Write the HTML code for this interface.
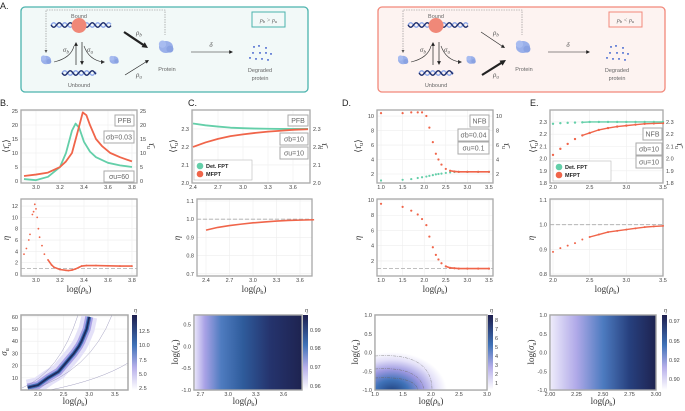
<!DOCTYPE html>
<html><head><meta charset="utf-8">
<style>
html,body{margin:0;padding:0;background:#fff;overflow:hidden;width:685px;height:411px;}
svg{display:block;font-family:"Liberation Sans",sans-serif;}
.tk{font-size:5.5px;fill:#444;}
.ser{font-family:"Liberation Serif",serif;}
</style></head>
<body>
<svg id="fig" width="685" height="411" viewBox="0 0 685 411" xmlns="http://www.w3.org/2000/svg" overflow="hidden">
<defs>
<linearGradient id="gC" x1="0" x2="1" y1="0" y2="0">
<stop offset="0" stop-color="#ece8fb"/><stop offset="0.1" stop-color="#a9a2e6"/><stop offset="0.25" stop-color="#4f7cc0"/><stop offset="0.45" stop-color="#2f5c9c"/><stop offset="0.7" stop-color="#25346e"/><stop offset="1" stop-color="#1e2350"/>
</linearGradient>
<linearGradient id="gE" x1="0" x2="1" y1="0" y2="0">
<stop offset="0" stop-color="#efedfb"/><stop offset="0.25" stop-color="#b0a9e8"/><stop offset="0.5" stop-color="#4d7bc0"/><stop offset="0.75" stop-color="#27407e"/><stop offset="1" stop-color="#1e2350"/>
</linearGradient>
<linearGradient id="gBar" x1="0" x2="0" y1="1" y2="0">
<stop offset="0" stop-color="#ffffff"/><stop offset="0.3" stop-color="#b7b0ea"/><stop offset="0.6" stop-color="#3f72b8"/><stop offset="1" stop-color="#1e1f4e"/>
</linearGradient>
<radialGradient id="gD" gradientUnits="userSpaceOnUse" cx="0" cy="0" r="1" gradientTransform="translate(392,392) scale(55,40)">
<stop offset="0" stop-color="#1f3f7c"/><stop offset="0.3" stop-color="#3f72b8"/><stop offset="0.55" stop-color="#9c98e0"/><stop offset="0.8" stop-color="#e2dff8"/><stop offset="1" stop-color="#ffffff"/>
</radialGradient>
</defs>
<g id="root"></g>
</svg>
<script>
// ---------- data ----------
const bTopX=[2.9,3.0,3.1,3.2,3.25,3.3,3.33,3.36,3.4,3.45,3.5,3.6,3.7,3.8];
const bDet=[0.7,0.3,1.5,5,10,18,20.5,19,14,10.5,8.5,6.5,5.6,5];
const bMfX=[2.9,3.0,3.1,3.2,3.25,3.3,3.35,3.39,3.42,3.45,3.5,3.55,3.62,3.7,3.8];
const bMf=[1.8,2.3,3,5,7,10,18,24.5,23.5,20,15,12.5,10,8.5,7];
const bEtaX=[2.9,2.92,2.94,2.95,2.97,2.98,2.99,3.0,3.01,3.02,3.03,3.05,3.07,3.1,3.13,3.15,3.2,3.25,3.27,3.3,3.33,3.36,3.38,3.42,3.5,3.6,3.7,3.8];
const bEta=[3.5,4.5,6,7,10.5,11,12.3,11.5,10,8,6.5,5,3.5,2.5,1.6,1.2,0.8,0.65,0.6,0.7,0.9,1.2,1.4,1.5,1.5,1.45,1.4,1.4];
const cX=[2.4,2.55,2.7,2.85,3.0,3.15,3.3,3.45,3.6,3.78];
const cDet=[2.33,2.32,2.313,2.307,2.304,2.302,2.301,2.3,2.3,2.3];
const cMf=[2.2,2.225,2.245,2.26,2.27,2.278,2.285,2.29,2.295,2.298];
const cEta=[0.94,0.955,0.965,0.973,0.98,0.985,0.99,0.993,0.995,0.997];
const dX=[1.0,1.5,1.7,1.85,1.95,2.05,2.12,2.2,2.27,2.33,2.4,2.5,2.6,2.7,2.8,3.0,3.25,3.5];
const dMf=[10.4,10.4,10.5,10.5,10.5,10,8.4,6.4,4.8,4,3.3,2.7,2.45,2.35,2.3,2.3,2.3,2.3];
const dDet=[1.1,1.2,1.3,1.45,1.55,1.65,1.75,1.85,1.95,2.0,2.05,2.15,2.22,2.27,2.3,2.3,2.3,2.3];
const dEta=[9.5,9.1,8.6,8.1,7.5,6.7,5.2,3.8,2.8,2.2,1.7,1.3,1.1,1.05,1.0,1.0,1.0,1.0];
const eX=[2.0,2.1,2.2,2.3,2.4,2.5,2.625,2.75,2.875,3.0,3.125,3.25,3.375,3.5];
const eDet=[2.285,2.29,2.293,2.295,2.297,2.3,2.3,2.3,2.3,2.3,2.3,2.3,2.3,2.3];
const eMf=[2.03,2.08,2.12,2.16,2.19,2.21,2.235,2.25,2.262,2.27,2.278,2.285,2.288,2.29];
const eEta=[0.89,0.905,0.915,0.925,0.94,0.95,0.96,0.97,0.975,0.98,0.985,0.99,0.993,0.995];
const bBandX=[1.8,2.0,2.2,2.4,2.5,2.6,2.7,2.8,2.85,2.9,2.95,3.0];
const bBandY=[2,4,10,15,20,25,30,36,40,45,50,60];
const tB=['3.0','3.2','3.4','3.6','3.8'];
const tC=['2.4','2.7','3.0','3.3','3.6'];
const tD=['1.0','1.5','2.0','2.5','3.0','3.5'];
const tE=['2.0','2.5','3.0','3.5'];

const NS='http://www.w3.org/2000/svg';
const root=document.getElementById('root');
function mk(tag,attrs,parent,txt){const e=document.createElementNS(NS,tag);for(const k in attrs)e.setAttribute(k,attrs[k]);if(txt!==undefined)e.textContent=txt;(parent||root).appendChild(e);return e;}
const RED='#f0654a',GRN='#64cfa9';

function axes(name,f,xd,yd,xt,yt,yr){
  const [x0,y0,x1,y1]=f;
  const g=mk('g',{});
  
  
  const sx=v=>x0+(v-xd[0])/(xd[1]-xd[0])*(x1-x0);
  const sy=v=>y1-(v-yd[0])/(yd[1]-yd[0])*(y1-y0);
  mk('rect',{x:x0,y:y0,width:x1-x0,height:y1-y0,fill:'#fff'},g);
  xt.forEach(t=>{const v=parseFloat(t);mk('line',{x1:sx(v),x2:sx(v),y1:y0,y2:y1,stroke:'#eee','stroke-width':0.6},g);const l=mk('text',{x:sx(v),y:y1+6,'text-anchor':'middle',class:'tk'},g,t);});
  yt.forEach(t=>{const v=parseFloat(t);mk('line',{x1:x0,x2:x1,y1:sy(v),y2:sy(v),stroke:'#eee','stroke-width':0.6},g);const l=mk('text',{x:x0-3,y:sy(v)+2,'text-anchor':'end',class:'tk'},g,t);
    if(yr){const r=mk('text',{x:x1+3,y:sy(v)+2,class:'tk'},g,t);}});
  mk('rect',{x:x0,y:y0,width:x1-x0,height:y1-y0,fill:'none',stroke:'#a8a8a8','stroke-width':1.3},g);
  return {g,sx,sy};
}
function line(ax,xs,ys,col,w,name){
  const p=mk('polyline',{points:xs.map((x,i)=>ax.sx(x)+','+ax.sy(ys[i])).join(' '),fill:'none',stroke:col,'stroke-width':w,'stroke-linejoin':'round'},ax.g);
  
  
}
function dots(ax,xs,ys,col,r,name){
  xs.forEach((x,i)=>{const c=mk('circle',{cx:ax.sx(x),cy:ax.sy(ys[i]),r:r,fill:col},ax.g);
    
    });
}
function hdash(ax,v,x0,x1){mk('line',{x1:x0,x2:x1,y1:ax.sy(v),y2:ax.sy(v),stroke:'#aaa','stroke-width':0.8,'stroke-dasharray':'4,2'},ax.g);}
function tbox(x,y,w,h,t,name,fs){
  const g=mk('g',{});
  
  
  mk('rect',{x:x,y:y,width:w,height:h,fill:'#fff',stroke:'#aaa','stroke-width':1},g);
  mk('text',{x:x+w/2,y:y+h/2+2.5,'text-anchor':'middle','font-size':fs||7,fill:'#666'},g,t);
}
function legend(x,y){
  const g=mk('g',{});
  
  
  mk('rect',{x:x,y:y,width:58,height:20,fill:'#fff',stroke:'#bbb','stroke-width':0.6},g);
  mk('circle',{cx:x+6,cy:y+6,r:3.3,fill:GRN},g);
  mk('circle',{cx:x+6,cy:y+14,r:3.3,fill:RED},g);
  mk('text',{x:x+12,y:y+8,'font-size':5.5,'font-weight':'bold',fill:'#222'},g,'Det. FPT');
  mk('text',{x:x+12,y:y+16,'font-size':5.5,'font-weight':'bold',fill:'#222'},g,'MFPT');
}
function ylab(x,y,html,name,rot){
  const t=mk('text',{x:0,y:0,'font-size':9,class:'ser',fill:'#333','text-anchor':'middle',transform:`translate(${x},${y}) rotate(${rot||-90})`});
  t.innerHTML=html;
  
  
}
function xlab(x,y){
  const t=mk('text',{x:x,y:y,'font-size':9,class:'ser',fill:'#333','text-anchor':'middle'});
  t.innerHTML='log(<tspan font-style="italic">ρ</tspan><tspan font-size="6" dy="2">b</tspan><tspan dy="-2">)</tspan>';
  
  
}
const TAU='⟨<tspan font-style="italic">τ̄</tspan><tspan font-size="6" dy="2">u</tspan><tspan dy="-2">⟩</tspan>';
const TAUR='<tspan font-style="italic">τ̄</tspan><tspan font-size="6" dy="2">u</tspan>';
const ETA='<tspan font-style="italic">η</tspan>';
function plabel(x,y,t){const e=mk('text',{x:x,y:y,'font-size':9,fill:'#222'},root,t);}

// ---------- panel A ----------
function dna(x,y,w,g){
  let p1='',p2='';
  for(let i=0;i<=w;i+=1){const a=i/w*Math.PI*2*(w/11);p1+=(i?'L':'M')+(x+i)+','+(y+2.3*Math.sin(a));p2+=(i?'L':'M')+(x+i)+','+(y-2.3*Math.sin(a));}
  mk('path',{d:p2,fill:'none',stroke:'#8fa8e8','stroke-width':1.4},g);
  mk('path',{d:p1,fill:'none',stroke:'#1f2f6e','stroke-width':1.4},g);
}
function blob(x,y,s,g){
  mk('ellipse',{cx:x,cy:y,rx:5*s,ry:4.3*s,fill:'#9ab0ea'},g);
  mk('circle',{cx:x-2.5*s,cy:y-2*s,r:2.6*s,fill:'#a8bcf0'},g);
  mk('circle',{cx:x+2.8*s,cy:y+1.5*s,r:2.5*s,fill:'#8aa2e2'},g);
}
function arrow(x1,y1,x2,y2,w,g){
  const a=Math.atan2(y2-y1,x2-x1),h=3+w*1.3;
  mk('line',{x1:x1,y1:y1,x2:x2-Math.cos(a)*h*0.8,y2:y2-Math.sin(a)*h*0.8,stroke:'#222','stroke-width':w},g);
  const p=[[x2,y2],[x2-Math.cos(a)*h+Math.sin(a)*h*0.5,y2-Math.sin(a)*h-Math.cos(a)*h*0.5],[x2-Math.cos(a)*h-Math.sin(a)*h*0.5,y2-Math.sin(a)*h+Math.cos(a)*h*0.5]];
  mk('polygon',{points:p.map(q=>q.join(',')).join(' '),fill:'#222'},g);
}
function diagram(o,border,bg,bw,uw,cond,name){
  const g=mk('g',{});
  
  
  const X=v=>v+o;
  mk('rect',{x:X(378),y:7,width:287,height:85,rx:4,fill:bg,stroke:border,'stroke-width':1.3},g);
  mk('polyline',{points:`${X(403)},52 ${X(403)},10 ${X(522)},10 ${X(522)},35`,fill:'none',stroke:'#888','stroke-width':0.6,'stroke-dasharray':'1.5,1'},g);
  mk('polygon',{points:`${X(401.5)},50 ${X(404.5)},50 ${X(403)},53`,fill:'#555'},g);
  mk('text',{x:X(436),y:18,'font-size':5.5,fill:'#666','text-anchor':'middle'},g,'Bound');
  dna(X(408),25,60,g);
  mk('circle',{cx:X(436),cy:25.5,r:7.5,fill:'#f08878'},g);
  dna(X(419),73,34,g);
  mk('text',{x:X(436),y:87,'font-size':5.5,fill:'#666','text-anchor':'middle'},g,'Unbound');
  blob(X(403),60,1,g);blob(X(471),60,0.9,g);
  arrow(X(433),65,X(433),42,0.7,g);arrow(X(439),42,X(439),65,0.7,g);
  mk('path',{d:`M${X(411)},62 Q${X(428)},58 ${X(431)},46`,fill:'none',stroke:'#333','stroke-width':0.6},g);
  mk('path',{d:`M${X(441)},46 Q${X(446)},60 ${X(460)},62`,fill:'none',stroke:'#333','stroke-width':0.6},g);
  mk('polygon',{points:`${X(462)},62 ${X(458)},60 ${X(458)},64`,fill:'#333'},g);
  mk('text',{x:X(420),y:52,'font-size':7,'font-style':'italic',fill:'#555',class:'ser'},g,'σ').innerHTML='σ<tspan font-size="5" dy="1.5">b</tspan>';
  mk('text',{x:X(444),y:52,'font-size':7,'font-style':'italic',fill:'#555',class:'ser'},g,'σ').innerHTML='σ<tspan font-size="5" dy="1.5">u</tspan>';
  arrow(X(481),32,X(505),48,bw,g);
  arrow(X(482),75,X(506),60,uw,g);
  mk('text',{x:X(493),y:35,'font-size':7,'font-style':'italic',fill:'#555',class:'ser'},g,'').innerHTML='ρ<tspan font-size="5" dy="1.5">b</tspan>';
  mk('text',{x:X(493),y:77,'font-size':7,'font-style':'italic',fill:'#555',class:'ser'},g,'').innerHTML='ρ<tspan font-size="5" dy="1.5">u</tspan>';
  blob(X(523),47,1.4,g);
  mk('text',{x:X(524),y:71,'font-size':5.5,fill:'#666','text-anchor':'middle'},g,'Protein');
  arrow(X(548),52,X(590),52,0.6,g);
  mk('text',{x:X(568),y:47,'font-size':7,'font-style':'italic',fill:'#555',class:'ser','text-anchor':'middle'},g,'δ');
  [[610,46],[615,45],[622,47],[609,52],[616,52],[622,52],[627,53],[612,58],[618,58],[624,59],[606,57]].forEach(q=>mk('rect',{x:X(q[0]),y:q[1],width:2,height:1.8,fill:'#6f88d8'},g));
  mk('text',{x:X(617),y:72,'font-size':5.5,fill:'#666','text-anchor':'middle'},g,'Degraded');
  mk('text',{x:X(617),y:80,'font-size':5.5,fill:'#666','text-anchor':'middle'},g,'protein');
  mk('rect',{x:X(609),y:12,width:33,height:15,fill:'none',stroke:border,'stroke-width':1},g);
  mk('text',{x:X(625.5),y:22,'font-size':6,'font-style':'italic',fill:'#555',class:'ser','text-anchor':'middle'},g,'').innerHTML=cond;
}
plabel(0,9,'A.');
diagram(-357,'#4bb3ad','#f2f9f8',2.2,0.6,'ρ<tspan font-size="4.5" dy="1">b</tspan><tspan dy="-1"> &gt; ρ</tspan><tspan font-size="4.5" dy="1">u</tspan>','diagram-positive-feedback');
diagram(0,'#f2887a','#fdf3f1',0.6,2.2,'ρ<tspan font-size="4.5" dy="1">b</tspan><tspan dy="-1"> &lt; ρ</tspan><tspan font-size="4.5" dy="1">u</tspan>','diagram-negative-feedback');

plabel(0,106,'B.');plabel(188,106,'C.');plabel(342,106,'D.');plabel(530,106,'E.');

// ---------- B ----------
let a=axes('panel-b-tau-plot',[21,110,137,183],[2.875,3.842],[-0.71,25.36],tB,['0','5','10','15','20','25'],true);
line(a,bTopX,bDet,GRN,1.8,'det-fpt-line');
line(a,bMfX,bMf,RED,1.8,'mfpt-line');
tbox(115,115,19,11,'PFB','pfb-label');tbox(104,131,30,12,'σb=0.03','sigma-b-label');tbox(104,171,30,11,'σu=60','sigma-u-label');
ylab(9,146,TAU,'y-axis-title');ylab(149,146,TAUR,'y2-axis-title',90);
a=axes('panel-b-eta-plot',[21,199,137,276],[2.875,3.842],[-0.35,13.24],tB,['0','2','4','6','8','10','12']);
hdash(a,1,21,137);dots(a,bEtaX,bEta,RED,0.9,'eta-point');
line(a,bEtaX.slice(13),bEta.slice(13),RED,1.6,'eta-line');
ylab(9,238,ETA,'y-axis-title');xlab(79,292);

// ---------- C ----------
a=axes('panel-c-tau-plot',[192,110,310,183],[2.388,3.804],[2.0,2.405],tC,['2.0','2.1','2.2','2.3'],true);
line(a,cX,cDet,GRN,1.8,'det-fpt-line');line(a,cX,cMf,RED,1.8,'mfpt-line');
legend(194,160);
tbox(288,115,20,11,'PFB','pfb-label');tbox(280,133,28,12,'σb=10','sigma-b-label');tbox(280,147,28,12,'σu=10','sigma-u-label');
ylab(176,146,TAU,'y-axis-title');ylab(322,146,TAUR,'y2-axis-title',90);
a=axes('panel-c-eta-plot',[197,199,312,276],[2.285,3.753],[0.688,1.111],tC,['0.7','0.8','0.9','1.0','1.1']);
hdash(a,1,197,312);line(a,cX,cEta,RED,1.6,'eta-line');
ylab(180,238,ETA,'y-axis-title');xlab(254,292);

// ---------- D ----------
a=axes('panel-d-tau-plot',[377,110,493,183],[0.907,3.593],[0.76,10.83],tD,['2','4','6','8','10'],true);
dots(a,dX,dDet,GRN,1.1,'det-fpt-point');dots(a,dX,dMf,RED,1.1,'mfpt-point');
line(a,dX.slice(12),dMf.slice(12),RED,1.6,'mfpt-line');
tbox(470,115,19,12,'NFB','nfb-label');tbox(458,129,31,12,'σb=0.04','sigma-b-label');tbox(458,142,31,12,'σu=0.1','sigma-u-label');
ylab(361,146,TAU,'y-axis-title');ylab(504,146,TAUR,'y2-axis-title',90);
a=axes('panel-d-eta-plot',[377,199,493,276],[0.907,3.593],[0.03,10.13],tD,['2','4','6','8','10']);
hdash(a,1,377,493);dots(a,dX,dEta,RED,1.1,'eta-point');line(a,dX.slice(11),dEta.slice(11),RED,1.6,'eta-line');
ylab(361,238,ETA,'y-axis-title');xlab(435,292);

// ---------- E ----------
a=axes('panel-e-tau-plot',[550,110,663,183],[1.959,3.5],[1.8,2.398],tE,['1.8','1.9','2.0','2.1','2.2','2.3'],true);
dots(a,eX,eDet,GRN,1.2,'det-fpt-point');dots(a,eX,eMf,RED,1.2,'mfpt-point');
line(a,eX.slice(4),eMf.slice(4),RED,1.4,'mfpt-line');line(a,eX.slice(4),eDet.slice(4),GRN,1.4,'det-fpt-line');
legend(553,161);
tbox(643,128,19,12,'NFB','nfb-label');tbox(636,143,26,12,'σb=10','sigma-b-label');tbox(636,156,26,12,'σu=10','sigma-u-label');
ylab(536,146,TAU,'y-axis-title');ylab(677,146,TAUR,'y2-axis-title',90);
a=axes('panel-e-eta-plot',[550,199,663,276],[1.959,3.5],[0.792,1.104],tE,['0.8','0.9','1.0','1.1']);
hdash(a,1,550,663);dots(a,eX,eEta,RED,1,'eta-point');line(a,eX.slice(5),eEta.slice(5),RED,1.4,'eta-line');
ylab(534,238,ETA,'y-axis-title');xlab(607,292);

// ---------- heatmaps ----------
function cbar(x,ticks,name){
  const g=mk('g',{});
  
  
  mk('rect',{x:x,y:315,width:5,height:75,fill:'url(#gBar)'},g);
  mk('text',{x:x+2,y:312,'font-size':6,'font-style':'italic',class:'ser',fill:'#333'},g,'η');
  ticks.forEach(t=>mk('text',{x:x+7,y:t[1]+2,class:'tk'},g,t[0]));
}
function hm(name,f,xd,yd,xt,yt){
  return axes(name,f,xd,yd,xt,yt);
}
// B heatmap
a=hm('panel-b-heatmap',[21,315,128,390],[1.67,3.755],[0,61.5],['2.0','2.5','3.0','3.5'],['10','20','30','40','50','60']);
const bp=bBandX.map((x,i)=>a.sx(x)+','+a.sy(bBandY[i])).join(' ');
const bcl=mk('clipPath',{id:'clipB'},a.g);mk('rect',{x:21,y:315,width:107,height:75},bcl);
const bg=mk('g',{'clip-path':'url(#clipB)'},a.g);
mk('polyline',{points:bp,fill:'none',stroke:'#e4e1f8','stroke-width':16},bg);
mk('polyline',{points:bp,fill:'none',stroke:'#aaa2e6','stroke-width':8},bg);
mk('polyline',{points:bp,fill:'none',stroke:'#3d6cb2','stroke-width':4},bg);
const bnd=mk('polyline',{points:bp,fill:'none',stroke:'#1e2a5e','stroke-width':1.8},bg);


mk('path',{d:'M22,388 Q60,372 78,315',fill:'none',stroke:'#8a86b0','stroke-width':0.4},bg);
mk('path',{d:'M30,390 Q90,372 112,315',fill:'none',stroke:'#8a86b0','stroke-width':0.4},bg);
mk('path',{d:'M50,390 Q100,380 128,363',fill:'none',stroke:'#8a86b0','stroke-width':0.4},bg);
mk('rect',{x:21,y:315,width:107,height:75,fill:'none',stroke:'#a8a8a8','stroke-width':1.3},a.g);
ylab(7,352,'<tspan font-style="italic">σ</tspan><tspan font-size="6" dy="2">u</tspan>','y-axis-title');
cbar(132,[['12.5',331],['10.0',345],['7.5',360],['5.0',374],['2.5',388]],'colorbar-b');xlab(75,404);
// C heatmap
a=hm('panel-c-heatmap',[194,315,302,390],[2.63,3.8],[-1.0,0.72],tC.slice(1),['-1.0','-0.5','0.0','0.5']);
const rc=mk('rect',{x:194,y:315,width:108,height:75,fill:'url(#gC)'},a.g);

mk('rect',{x:194,y:315,width:108,height:75,fill:'none',stroke:'#a8a8a8','stroke-width':1.3},a.g);
ylab(178,352,'log(<tspan font-style="italic">σ</tspan><tspan font-size="6" dy="2">u</tspan><tspan dy="-2">)</tspan>','y-axis-title');
cbar(303,[['0.99',330],['0.98',348],['0.97',367],['0.96',386]],'colorbar-c');xlab(245,404);
// D heatmap
a=hm('panel-d-heatmap',[375,315,487,390],[1.0,3.0],[-1.0,1.0],['1.0','1.5','2.0','2.5','3.0'],['-1.0','-0.5','0.0','0.5','1.0']);
const rd=mk('rect',{x:375,y:315,width:112,height:75,fill:'url(#gD)'},a.g);

mk('path',{d:'M375,356 Q432,352 432,390',fill:'none',stroke:'#888','stroke-width':0.5,'stroke-dasharray':'3,1,1,1'},a.g);
mk('path',{d:'M375,369 Q420,366 424,390',fill:'none',stroke:'#777','stroke-width':0.5,'stroke-dasharray':'3,1,1,1'},a.g);
mk('path',{d:'M375,378 Q415,376 418,390',fill:'none',stroke:'#666','stroke-width':0.5,'stroke-dasharray':'3,1,1,1'},a.g);
mk('rect',{x:375,y:315,width:112,height:75,fill:'none',stroke:'#a8a8a8','stroke-width':1.3},a.g);
ylab(358,352,'log(<tspan font-style="italic">σ</tspan><tspan font-size="6" dy="2">u</tspan><tspan dy="-2">)</tspan>','y-axis-title');
cbar(488,[['8',320],['7',329],['6',338],['5',347],['4',356],['3',365],['2',374],['1',383]],'colorbar-d');xlab(431,404);
// E heatmap
a=hm('panel-e-heatmap',[550,315,656,390],[2.0,3.0],[-1.0,1.0],['2.00','2.25','2.50','2.75','3.00'],['-1.0','-0.5','0.0','0.5','1.0']);
const re=mk('rect',{x:550,y:315,width:106,height:75,fill:'url(#gE)'},a.g);

mk('rect',{x:550,y:315,width:106,height:75,fill:'none',stroke:'#a8a8a8','stroke-width':1.3},a.g);
ylab(534,352,'log(<tspan font-style="italic">σ</tspan><tspan font-size="6" dy="2">u</tspan><tspan dy="-2">)</tspan>','y-axis-title');
cbar(662,[['0.97',321],['0.95',341],['0.92',360],['0.90',379]],'colorbar-e');xlab(603,404);
</script>
</body></html>
